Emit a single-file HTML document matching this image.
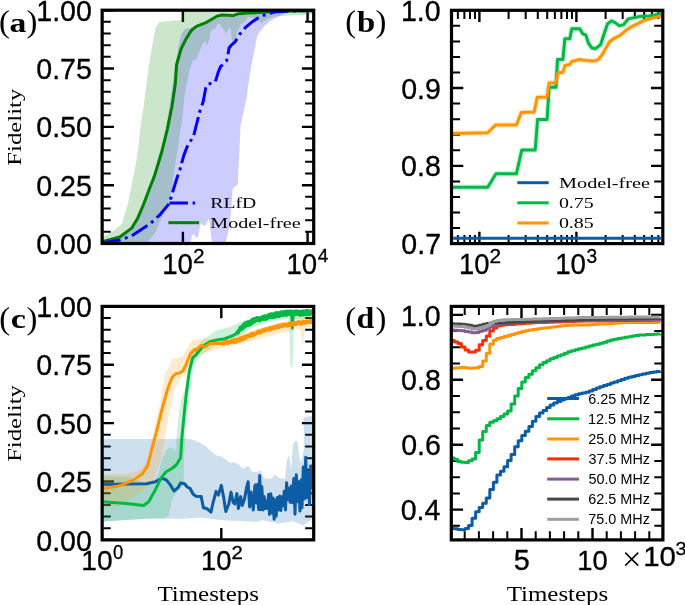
<!DOCTYPE html>
<html><head><meta charset="utf-8"><style>html,body{margin:0;padding:0;background:#fff;overflow:hidden}svg{display:block;will-change:transform}</style></head>
<body><svg width="685" height="605" viewBox="0 0 685 605">
<defs><clipPath id="clipA"><rect x="102.15" y="10.2" width="211.55" height="233.30"/></clipPath><clipPath id="clipB"><rect x="451.5" y="10.3" width="211.30" height="233.30"/></clipPath><clipPath id="clipC"><rect x="102.15" y="306.4" width="211.55" height="233.50"/></clipPath><clipPath id="clipD"><rect x="451.3" y="306.4" width="211.60" height="233.50"/></clipPath></defs>
<path d="M182.90 243.50V231.70M182.90 10.20V22.00M307.60 243.50V231.70M307.60 10.20V22.00M102.15 243.50H113.95M313.70 243.50H301.90M102.15 185.18H113.95M313.70 185.18H301.90M102.15 126.85H113.95M313.70 126.85H301.90M102.15 68.52H113.95M313.70 68.52H301.90M102.15 10.20H113.95M313.70 10.20H301.90" stroke="#000" stroke-width="2.4" fill="none"/>
<path d="M102.15 231.84H110.75M313.70 231.84H305.10M102.15 220.17H110.75M313.70 220.17H305.10M102.15 208.50H110.75M313.70 208.50H305.10M102.15 196.84H110.75M313.70 196.84H305.10M102.15 173.51H110.75M313.70 173.51H305.10M102.15 161.84H110.75M313.70 161.84H305.10M102.15 150.18H110.75M313.70 150.18H305.10M102.15 138.51H110.75M313.70 138.51H305.10M102.15 115.18H110.75M313.70 115.18H305.10M102.15 103.52H110.75M313.70 103.52H305.10M102.15 91.85H110.75M313.70 91.85H305.10M102.15 80.19H110.75M313.70 80.19H305.10M102.15 56.86H110.75M313.70 56.86H305.10M102.15 45.19H110.75M313.70 45.19H305.10M102.15 33.53H110.75M313.70 33.53H305.10M102.15 21.86H110.75M313.70 21.86H305.10" stroke="#000" stroke-width="2.0" fill="none"/>
<g clip-path="url(#clipA)">
<polygon points="102.2,243.5 102.2,242.5 110.0,241.5 120.0,238.5 131.0,230.0 138.0,220.0 144.0,205.0 150.0,185.0 156.0,165.0 162.0,145.0 166.0,128.0 169.4,107.0 172.3,87.3 174.9,67.5 178.3,47.6 181.3,33.8 185.0,29.0 192.0,27.5 198.0,25.0 206.0,23.0 212.0,20.0 222.0,17.0 232.0,17.0 242.0,15.0 256.0,13.0 270.0,11.5 284.0,11.5 285.0,13.5 283.8,14.0 277.8,16.9 273.4,19.2 268.9,22.1 264.4,25.9 260.0,31.8 257.0,36.3 255.5,45.2 253.3,55.6 251.0,67.5 248.8,80.9 246.6,98.0 243.5,112.0 240.6,125.0 239.7,144.8 238.7,164.7 237.7,184.5 232.7,188.5 231.7,204.3 229.7,224.1 228.6,230.0 225.5,243.5 212.8,243.5 211.5,238.8 210.2,228.3 208.9,218.6 207.1,222.1 205.4,225.6 203.2,225.2 201.0,223.0 199.7,228.3 198.4,236.2 196.2,237.9 194.4,234.0 192.3,235.3 189.6,243.5" fill="#0000ff" fill-opacity="0.2" stroke="none"/>
<polygon points="102.2,243.5 102.2,237.0 104.0,236.0 111.9,232.0 121.8,224.1 127.8,204.3 131.7,184.5 135.7,164.6 138.7,144.8 140.6,125.0 143.6,107.0 146.0,87.3 148.6,67.5 151.9,47.6 155.5,27.8 159.5,21.9 170.0,21.0 180.5,20.0 182.0,10.2 313.7,10.2 313.7,14.0 305.0,15.0 290.0,15.5 280.0,16.0 273.0,17.0 265.9,19.9 261.5,22.9 255.0,18.0 248.1,16.9 245.1,21.4 240.6,24.4 236.9,33.3 234.7,43.7 232.4,42.2 230.2,27.3 228.0,30.3 225.8,33.3 222.0,27.3 218.3,22.9 215.3,28.8 210.9,30.3 209.4,39.2 207.2,45.2 204.9,40.7 202.0,45.2 199.0,52.6 196.0,60.0 192.8,60.0 189.3,71.6 187.0,83.1 184.7,94.7 182.4,117.8 178.9,140.9 175.4,164.0 172.0,187.2 169.7,199.9 167.4,204.3 161.4,218.2 155.5,232.0 149.6,240.0 146.0,243.5" fill="#008000" fill-opacity="0.2" stroke="none"/>
<polyline points="102.2,242.0 104.0,241.3 119.8,237.0 131.7,228.1 137.7,218.2 143.6,204.3 150.0,187.2 154.6,175.6 161.6,152.5 167.3,129.4 172.0,106.2 175.4,83.1 176.5,65.0 181.1,48.9 186.2,38.6 191.3,30.5 196.4,26.4 201.5,24.3 206.6,22.3 211.8,19.2 216.9,16.2 222.0,15.0 227.1,15.2 233.2,15.6 237.3,14.1 247.5,13.1 258.0,12.6 267.9,12.1 280.0,11.3 313.7,10.8" fill="none" stroke="#008000" stroke-width="3.0" stroke-linejoin="round" stroke-linecap="butt"/>
<polyline points="102.2,243.0 104.0,242.6 119.8,240.0 131.7,236.0 149.6,224.1 159.5,215.2 169.4,203.3 172.0,194.1 176.9,178.3 179.8,170.2 181.6,163.2 183.9,155.1 186.8,147.6 190.2,141.8 193.7,135.5 197.8,119.3 199.5,112.3 203.2,101.6 205.7,88.3 207.9,83.9 213.9,83.1 216.1,79.4 218.3,72.0 220.5,66.8 222.8,64.5 226.5,60.8 228.0,54.1 229.1,48.0 231.0,45.5 235.3,41.7 239.4,34.6 245.5,27.4 251.6,22.3 257.7,18.2 263.9,15.2 274.1,12.1 285.0,11.3 300.0,10.8 313.7,10.6" fill="none" stroke="#0000ff" stroke-width="3.0" stroke-linejoin="round" stroke-linecap="butt" stroke-dasharray="18.6 4.6 2.9 4.6"/>
</g>
<polyline points="169.4,202.9 195.1,202.9" fill="none" stroke="#0000ff" stroke-width="3.0" stroke-linejoin="round" stroke-linecap="butt" stroke-dasharray="18.6 4.6 2.9 4.6"/>
<polyline points="168.4,222.7 199.1,222.7" fill="none" stroke="#008000" stroke-width="3.0" stroke-linejoin="round" stroke-linecap="butt"/>
<rect x="102.15" y="10.2" width="211.55" height="233.30" fill="none" stroke="#000" stroke-width="3.2" stroke-linejoin="miter"/>
<path d="M479.40 243.60V231.80M479.40 10.30V22.10M576.40 243.60V231.80M576.40 10.30V22.10M451.50 243.60H463.30M662.80 243.60H651.00M451.50 165.83H463.30M662.80 165.83H651.00M451.50 88.07H463.30M662.80 88.07H651.00M451.50 10.30H463.30M662.80 10.30H651.00" stroke="#000" stroke-width="2.4" fill="none"/>
<path d="M457.88 243.60V235.00M457.88 10.30V18.90M464.37 243.60V235.00M464.37 10.30V18.90M470.00 243.60V235.00M470.00 10.30V18.90M474.96 243.60V235.00M474.96 10.30V18.90M508.60 243.60V235.00M508.60 10.30V18.90M525.68 243.60V235.00M525.68 10.30V18.90M537.80 243.60V235.00M537.80 10.30V18.90M547.20 243.60V235.00M547.20 10.30V18.90M554.88 243.60V235.00M554.88 10.30V18.90M561.37 243.60V235.00M561.37 10.30V18.90M567.00 243.60V235.00M567.00 10.30V18.90M571.96 243.60V235.00M571.96 10.30V18.90M605.60 243.60V235.00M605.60 10.30V18.90M622.68 243.60V235.00M622.68 10.30V18.90M634.80 243.60V235.00M634.80 10.30V18.90M644.20 243.60V235.00M644.20 10.30V18.90M651.88 243.60V235.00M651.88 10.30V18.90M658.37 243.60V235.00M658.37 10.30V18.90M451.50 228.05H460.10M662.80 228.05H654.20M451.50 212.49H460.10M662.80 212.49H654.20M451.50 196.94H460.10M662.80 196.94H654.20M451.50 181.39H460.10M662.80 181.39H654.20M451.50 150.28H460.10M662.80 150.28H654.20M451.50 134.73H460.10M662.80 134.73H654.20M451.50 119.17H460.10M662.80 119.17H654.20M451.50 103.62H460.10M662.80 103.62H654.20M451.50 72.51H460.10M662.80 72.51H654.20M451.50 56.96H460.10M662.80 56.96H654.20M451.50 41.41H460.10M662.80 41.41H654.20M451.50 25.85H460.10M662.80 25.85H654.20" stroke="#000" stroke-width="2.0" fill="none"/>
<g clip-path="url(#clipB)">
<polyline points="451.5,133.4 487.7,132.8 495.6,124.9 516.4,124.9 521.4,112.4 534.2,112.0 537.2,97.2 547.1,97.2 549.1,82.9 556.0,82.9 557.9,72.4 562.9,72.4 564.9,65.5 569.8,64.5 571.8,61.5 578.8,59.6 586.7,60.6 592.6,61.1 597.6,60.0 601.6,55.6 605.5,48.7 609.5,41.7 613.5,38.7 619.4,35.8 625.4,30.8 631.3,26.8 637.3,23.9 643.2,20.9 651.1,18.3 660.1,16.3 662.8,15.8" fill="none" stroke="#FF9500" stroke-width="5.6" stroke-linejoin="round" stroke-linecap="butt" stroke-opacity="0.2"/>
<polyline points="451.5,187.3 487.7,187.3 496.0,173.8 516.4,173.8 521.8,150.0 535.2,150.0 537.6,119.5 547.1,119.5 549.1,87.3 556.0,87.3 557.5,59.6 562.9,59.6 564.9,38.7 569.8,38.7 571.8,28.8 579.7,28.8 582.7,33.8 585.7,34.8 588.7,43.7 591.6,47.7 595.6,48.7 600.6,44.7 603.5,35.8 607.5,23.9 611.5,20.9 615.4,22.9 619.4,25.8 623.4,24.9 628.3,18.9 633.3,17.9 641.2,16.3 649.1,15.9 660.1,14.0 662.8,13.6" fill="none" stroke="#00B945" stroke-width="5.6" stroke-linejoin="round" stroke-linecap="butt" stroke-opacity="0.2"/>
<polyline points="451.5,187.3 487.7,187.3 496.0,173.8 516.4,173.8 521.8,150.0 535.2,150.0 537.6,119.5 547.1,119.5 549.1,87.3 556.0,87.3 557.5,59.6 562.9,59.6 564.9,38.7 569.8,38.7 571.8,28.8 579.7,28.8 582.7,33.8 585.7,34.8 588.7,43.7 591.6,47.7 595.6,48.7 600.6,44.7 603.5,35.8 607.5,23.9 611.5,20.9 615.4,22.9 619.4,25.8 623.4,24.9 628.3,18.9 633.3,17.9 641.2,16.3 649.1,15.9 660.1,14.0 662.8,13.6" fill="none" stroke="#00B945" stroke-width="3.0" stroke-linejoin="round" stroke-linecap="butt"/>
<polyline points="451.5,133.4 487.7,132.8 495.6,124.9 516.4,124.9 521.4,112.4 534.2,112.0 537.2,97.2 547.1,97.2 549.1,82.9 556.0,82.9 557.9,72.4 562.9,72.4 564.9,65.5 569.8,64.5 571.8,61.5 578.8,59.6 586.7,60.6 592.6,61.1 597.6,60.0 601.6,55.6 605.5,48.7 609.5,41.7 613.5,38.7 619.4,35.8 625.4,30.8 631.3,26.8 637.3,23.9 643.2,20.9 651.1,18.3 660.1,16.3 662.8,15.8" fill="none" stroke="#FF9500" stroke-width="3.0" stroke-linejoin="round" stroke-linecap="butt"/>
</g>
<polyline points="517.3,182.7 548.7,182.7" fill="none" stroke="#0C5DA5" stroke-width="3.0" stroke-linejoin="round" stroke-linecap="butt"/>
<polyline points="517.3,202.8 548.7,202.8" fill="none" stroke="#00B945" stroke-width="3.0" stroke-linejoin="round" stroke-linecap="butt"/>
<polyline points="517.3,223.0 548.7,223.0" fill="none" stroke="#FF9500" stroke-width="3.0" stroke-linejoin="round" stroke-linecap="butt"/>
<rect x="451.5" y="10.3" width="211.30" height="233.30" fill="none" stroke="#000" stroke-width="3.2" stroke-linejoin="miter"/>
<polyline points="453.1,238.2 661.2,238.2" fill="none" stroke="#0C5DA5" stroke-width="3.0" stroke-linejoin="round" stroke-linecap="butt"/>
<path d="M221.30 539.90V528.10M221.30 306.40V318.20M102.15 539.90H113.95M313.70 539.90H301.90M102.15 481.52H113.95M313.70 481.52H301.90M102.15 423.15H113.95M313.70 423.15H301.90M102.15 364.77H113.95M313.70 364.77H301.90M102.15 306.40H113.95M313.70 306.40H301.90" stroke="#000" stroke-width="2.4" fill="none"/>
<path d="M102.15 528.23H110.75M313.70 528.23H305.10M102.15 516.55H110.75M313.70 516.55H305.10M102.15 504.88H110.75M313.70 504.88H305.10M102.15 493.20H110.75M313.70 493.20H305.10M102.15 469.85H110.75M313.70 469.85H305.10M102.15 458.17H110.75M313.70 458.17H305.10M102.15 446.50H110.75M313.70 446.50H305.10M102.15 434.82H110.75M313.70 434.82H305.10M102.15 411.47H110.75M313.70 411.47H305.10M102.15 399.80H110.75M313.70 399.80H305.10M102.15 388.12H110.75M313.70 388.12H305.10M102.15 376.45H110.75M313.70 376.45H305.10M102.15 353.10H110.75M313.70 353.10H305.10M102.15 341.42H110.75M313.70 341.42H305.10M102.15 329.75H110.75M313.70 329.75H305.10M102.15 318.07H110.75M313.70 318.07H305.10" stroke="#000" stroke-width="2.0" fill="none"/>
<g clip-path="url(#clipC)">
<polygon points="102.2,438.9 170.0,438.9 184.6,438.4 191.9,439.6 199.2,442.5 205.0,445.4 210.9,451.3 215.3,454.9 221.1,456.4 225.5,459.3 229.9,463.0 234.2,462.2 238.6,464.4 243.0,468.8 247.4,466.6 248.8,465.9 251.8,471.7 257.6,471.7 260.5,470.0 264.0,477.9 271.0,478.8 275.0,474.6 279.0,478.0 285.0,478.5 287.0,460.0 289.0,454.8 291.0,470.0 293.0,445.0 295.0,441.0 297.5,441.6 299.5,460.0 301.5,462.0 303.8,450.0 303.8,417.3 308.0,416.5 313.7,415.8 313.7,519.3 311.7,519.3 303.4,525.5 293.0,521.3 278.6,523.4 262.0,520.3 255.6,521.9 240.7,521.1 225.8,520.4 200.0,517.4 182.7,518.7 163.4,518.7 146.3,518.7 126.4,520.0 104.0,521.4 102.2,521.4" fill="#0C5DA5" fill-opacity="0.2" stroke="none"/>
<polygon points="102.2,475.8 130.0,477.0 146.0,484.0 152.9,484.4 158.0,474.0 162.0,460.0 166.1,450.5 169.4,447.2 172.8,447.9 176.0,450.5 176.7,434.6 178.7,414.8 180.7,401.6 182.7,395.0 185.1,388.0 188.3,366.5 192.6,352.5 198.0,345.0 205.0,338.0 217.0,330.3 231.0,326.8 241.5,321.5 253.8,317.1 271.0,313.6 284.0,311.0 300.0,309.2 313.7,308.6 313.7,318.0 300.0,319.0 294.0,319.0 292.5,367.0 290.5,367.0 289.0,319.0 276.0,320.0 266.0,323.0 256.0,326.0 248.0,330.0 242.0,334.0 236.0,340.0 228.0,343.0 215.0,346.0 204.4,353.6 198.0,357.9 193.7,366.5 190.5,388.0 186.2,422.3 184.0,458.8 183.9,485.0 179.3,489.6 172.7,497.6 168.7,516.0 164.8,518.0 146.3,518.7 126.4,520.0 102.2,521.4" fill="#00B945" fill-opacity="0.2" stroke="none"/>
<polygon points="102.2,474.4 126.4,473.8 137.0,471.1 143.6,465.9 148.6,456.7 155.0,424.5 160.4,400.9 164.7,375.1 167.9,368.7 172.2,359.0 178.7,357.9 182.9,355.8 189.4,344.0 193.7,339.7 202.3,338.6 210.0,339.0 236.0,335.0 255.0,329.5 275.0,324.0 295.0,318.5 313.7,315.5 313.7,326.5 305.0,327.5 302.5,345.0 300.0,329.0 295.0,330.0 275.0,334.5 255.0,339.5 236.0,345.0 215.0,350.0 204.4,352.5 198.0,355.8 191.5,362.2 186.2,373.0 179.7,379.4 174.4,390.1 167.9,420.2 161.5,458.8 156.8,469.8 152.9,481.7 148.9,487.0 143.6,489.6 133.0,497.6 119.8,505.5 102.2,508.1" fill="#FF9500" fill-opacity="0.2" stroke="none"/>
<polyline points="102.2,484.6 126.4,484.1 146.3,483.7 155.5,481.7 162.1,478.4 166.1,479.7 170.0,484.4 174.0,491.0 178.0,487.7 180.6,483.0 184.6,483.7 187.2,487.0 190.0,488.3 193.0,494.0 196.0,496.3 201.2,496.6 203.4,507.7 207.2,508.8 210.9,512.2 213.1,502.5 216.1,491.4 218.3,495.1 221.3,485.4 223.5,496.6 225.8,511.5 228.8,504.0 231.0,492.1 233.2,502.5 234.7,504.0 236.9,493.6 238.4,508.5 240.7,496.6 242.2,505.5 244.4,499.6 246.6,487.6 248.1,481.7 249.6,507.0 251.1,492.1 253.3,510.0 254.8,486.2 255.6,484.9 256.6,503.1 257.5,484.5 258.6,509.6 259.7,475.4 260.9,509.8 261.8,486.5 263.1,509.9 264.1,496.4 265.5,508.6 266.6,501.0 267.5,508.3 268.6,494.2 269.5,514.5 270.8,493.7 272.0,512.9 273.1,497.9 274.1,519.3 275.1,499.9 276.2,516.2 277.4,497.6 278.4,510.1 279.7,496.0 280.8,510.5 282.2,496.8 283.2,505.7 284.2,491.2 285.5,510.0 286.6,482.7 287.8,499.4 289.0,488.2 290.1,502.3 291.3,486.0 292.4,502.7 293.8,478.5 295.0,514.2 296.3,474.8 297.7,501.7 298.7,481.8 299.9,511.1 301.1,480.1 302.0,507.7 303.3,467.1 304.3,499.1 305.7,457.3 306.8,497.7 308.1,472.5 309.5,504.6 310.6,465.9 311.9,487.8 312.9,465.5 313.9,492.0" fill="none" stroke="#0C5DA5" stroke-width="3.0" stroke-linejoin="round" stroke-linecap="butt"/>
<polyline points="102.2,501.8 126.4,503.5 143.6,505.5 148.9,501.5 155.5,489.6 160.8,478.4 166.1,471.8 172.0,468.5 176.6,464.5 180.6,457.9 181.9,437.4 184.0,415.9 186.2,394.4 189.4,370.8 192.6,357.9 196.0,354.8 203.0,346.0 210.0,341.7 217.0,339.9 224.0,339.0 231.0,336.4 236.3,333.8" fill="none" stroke="#00B945" stroke-width="3.0" stroke-linejoin="round" stroke-linecap="butt"/>
<polyline points="236.3,333.8 237.1,332.9 237.9,332.3 238.7,331.0 239.5,330.1 240.3,329.3 241.1,328.2 241.9,327.8" fill="none" stroke="#00B945" stroke-width="4.2" stroke-linejoin="round" stroke-linecap="butt"/>
<polyline points="240.3,329.3 241.1,328.2 241.9,327.8 242.7,327.2 243.5,326.7 244.3,325.1 245.1,324.7 245.9,323.9 246.7,324.7 247.5,324.2 248.3,322.7 249.1,324.0 249.9,323.7 250.7,322.7 251.5,322.2 252.3,321.0 253.1,320.3 253.9,321.0 254.7,319.7 255.5,319.6 256.3,319.5 257.1,318.8 257.9,319.4 258.7,319.1 259.5,319.6 260.3,318.7 261.1,318.7 261.9,318.1 262.7,318.2 263.5,317.6 264.3,317.1 265.1,318.3 265.9,318.1 266.7,317.5 267.5,317.1 268.3,316.1 269.1,315.7 269.9,315.6 270.7,315.0 271.5,316.2 272.3,315.3 273.1,316.1 273.9,315.0 274.7,316.0 275.5,315.6 276.3,313.7 277.1,314.0 277.9,315.2 278.7,314.2 279.5,315.1 280.3,313.8 281.1,313.0 281.9,314.0 282.7,314.2 283.5,313.0 284.3,312.6 285.1,312.9 285.9,314.1 286.7,313.6 287.5,312.2 288.3,312.5 289.1,312.2 289.9,312.2 290.7,313.7 291.5,312.4 292.3,313.2 293.1,313.0 293.9,312.5 294.7,313.6 295.5,312.4 296.3,313.4 297.1,312.4 297.9,313.0 298.7,312.6 299.5,312.7 300.3,314.1 301.1,313.7 301.9,312.6 302.7,313.7 303.5,312.3 304.3,312.6 305.1,313.4 305.9,312.9 306.7,311.7 307.5,313.5 308.3,312.0 309.1,312.1 309.9,313.2 310.7,312.3 311.5,312.3 312.3,311.9 313.1,312.0 313.9,313.0" fill="none" stroke="#00B945" stroke-width="5.4" stroke-linejoin="round" stroke-linecap="butt"/>
<polyline points="291.3,314.0 292.4,328.4 293.6,314.0" fill="none" stroke="#00B945" stroke-width="2.4" stroke-linejoin="round" stroke-linecap="butt"/>
<polyline points="102.2,489.0 119.8,485.7 133.0,480.4 142.3,473.8 147.6,465.9 151.5,450.0 156.1,433.1 162.5,407.3 167.9,388.0 172.2,377.2 175.4,374.0 179.7,372.9 182.9,370.8 186.2,364.4 190.5,353.6 194.8,349.3 196.0,350.4 201.3,345.2 204.8,346.9 210.0,343.4 222.3,343.4 231.0,341.7 236.0,341.0" fill="none" stroke="#FF9500" stroke-width="3.0" stroke-linejoin="round" stroke-linecap="butt"/>
<polyline points="222.3,343.4 223.1,343.5 223.9,343.4 224.7,342.4 225.5,342.0 226.3,342.4 227.1,342.1 227.9,342.8 228.7,342.5 229.5,342.2 230.3,341.9 231.1,341.9 231.9,341.0 232.7,341.4 233.5,340.8 234.3,341.9 235.1,340.4 235.9,341.5 236.7,340.0 237.5,340.7 238.3,339.8 239.1,339.6 239.9,340.0 240.7,338.4 241.5,338.2 242.3,339.2 243.1,338.3 243.9,337.3 244.7,338.4 245.5,338.0 246.3,336.4 247.1,336.6 247.9,335.8 248.7,335.8 249.5,336.0 250.3,335.0 251.1,335.6 251.9,334.2 252.7,334.1 253.5,334.9 254.3,333.9 255.1,333.6 255.9,333.6 256.7,333.0 257.5,332.5 258.3,331.6 259.1,332.4 259.9,332.4 260.7,332.1 261.5,331.3 262.3,330.5 263.1,330.3 263.9,330.6 264.7,330.4 265.5,329.3 266.3,329.3 267.1,329.3 267.9,329.3 268.7,329.6 269.5,328.9 270.3,328.0 271.1,329.0 271.9,328.2 272.7,328.1 273.5,327.4 274.3,327.6 275.1,327.3 275.9,327.7 276.7,326.4 277.5,326.9 278.3,326.1 279.1,326.7 279.9,325.5 280.7,325.7 281.5,325.7 282.3,326.0 283.1,324.9 283.9,325.4 284.7,324.8 285.5,324.8 286.3,324.9 287.1,325.5 287.9,324.6 288.7,325.2 289.5,323.8 290.3,324.8 291.1,323.8 291.9,323.5 292.7,324.2 293.5,324.4 294.3,322.9 295.1,323.2 295.9,323.9 296.7,323.1 297.5,322.8 298.3,322.3 299.1,322.3 299.9,323.1 300.7,323.6 301.5,323.5 302.3,322.6 303.1,321.7 303.9,322.1 304.7,322.7 305.5,322.6 306.3,322.2 307.1,321.5 307.9,321.8 308.7,321.6 309.5,321.7 310.3,321.0 311.1,321.9 311.9,321.7 312.7,320.4 313.5,320.5 314.3,321.4" fill="none" stroke="#FF9500" stroke-width="4.2" stroke-linejoin="round" stroke-linecap="butt"/>
</g>
<rect x="102.15" y="306.4" width="211.55" height="233.50" fill="none" stroke="#000" stroke-width="3.2" stroke-linejoin="miter"/>
<path d="M521.50 539.90V528.10M521.50 306.40V318.20M592.50 539.90V528.10M592.50 306.40V318.20M451.30 509.60H463.10M662.90 509.60H651.10M451.30 444.70H463.10M662.90 444.70H651.10M451.30 379.80H463.10M662.90 379.80H651.10M451.30 314.90H463.10M662.90 314.90H651.10" stroke="#000" stroke-width="2.4" fill="none"/>
<path d="M464.70 539.90V531.30M464.70 306.40V315.00M478.90 539.90V531.30M478.90 306.40V315.00M493.10 539.90V531.30M493.10 306.40V315.00M507.30 539.90V531.30M507.30 306.40V315.00M535.70 539.90V531.30M535.70 306.40V315.00M549.90 539.90V531.30M549.90 306.40V315.00M564.10 539.90V531.30M564.10 306.40V315.00M578.30 539.90V531.30M578.30 306.40V315.00M606.70 539.90V531.30M606.70 306.40V315.00M620.90 539.90V531.30M620.90 306.40V315.00M635.10 539.90V531.30M635.10 306.40V315.00M649.30 539.90V531.30M649.30 306.40V315.00M451.30 525.83H459.90M662.90 525.83H654.30M451.30 493.38H459.90M662.90 493.38H654.30M451.30 477.15H459.90M662.90 477.15H654.30M451.30 460.92H459.90M662.90 460.92H654.30M451.30 428.47H459.90M662.90 428.47H654.30M451.30 412.25H459.90M662.90 412.25H654.30M451.30 396.02H459.90M662.90 396.02H654.30M451.30 363.57H459.90M662.90 363.57H654.30M451.30 347.35H459.90M662.90 347.35H654.30M451.30 331.12H459.90M662.90 331.12H654.30" stroke="#000" stroke-width="2.0" fill="none"/>
<g clip-path="url(#clipD)">
<polyline points="450.8,528.4 454.3,528.4 454.3,528.7 457.9,528.7 457.9,529.6 461.4,529.6 461.4,529.7 465.0,529.7 465.0,528.6 468.5,528.6 468.5,525.6 472.1,525.6 472.1,518.2 475.6,518.2 475.6,511.7 479.2,511.7 479.2,507.5 482.7,507.5 482.7,503.3 486.3,503.3 486.3,498.1 489.8,498.1 489.8,489.4 493.4,489.4 493.4,482.2 496.9,482.2 496.9,475.1 500.5,475.1 500.5,471.3 504.0,471.3 504.0,466.7 507.6,466.7 507.6,460.5 511.1,460.5 511.1,454.6 514.7,454.6 514.7,446.8 518.2,446.8 518.2,440.7 521.8,440.7 521.8,435.4 525.3,435.4 525.3,431.3 528.9,431.3 528.9,426.5 532.4,426.5 532.4,421.2 535.9,421.2 535.9,416.6 539.5,416.6 539.5,413.1 543.0,413.1 543.0,410.6 546.6,410.6 546.6,407.6 550.1,407.6 550.1,405.1 553.7,405.1 553.7,403.1 557.2,403.1 557.2,401.4 560.8,401.4 560.8,400.1 564.3,400.1 564.3,398.8 567.9,398.8 567.9,397.4 571.4,397.4 571.4,396.0 575.0,396.0 575.0,394.8 578.5,394.8 578.5,393.8 582.1,393.8 582.1,393.1 585.6,393.1 585.6,392.2 589.2,392.2 589.2,390.9 592.7,390.9 592.7,389.5 596.3,389.5 596.3,388.1 599.8,388.1 599.8,386.8 603.4,386.8 603.4,385.6 606.9,385.6 606.9,384.4 610.5,384.4 610.5,383.1 614.0,383.1 614.0,381.9 617.6,381.9 617.6,380.7 621.1,380.7 621.1,379.4 624.7,379.4 624.7,378.2 628.2,378.2 628.2,377.3 631.8,377.3 631.8,376.4 635.3,376.4 635.3,375.5 638.9,375.5 638.9,374.7 642.4,374.7 642.4,374.0 646.0,374.0 646.0,373.2 649.5,373.2 649.5,372.5 653.1,372.5 653.1,371.9 656.6,371.9 656.6,371.5 660.2,371.5 660.2,371.0" fill="none" stroke="#0C5DA5" stroke-width="3.0" stroke-linejoin="round" stroke-linecap="butt"/>
<polyline points="450.8,458.0 454.3,458.0 454.3,459.5 457.9,459.5 457.9,461.5 461.4,461.5 461.4,462.3 465.0,462.3 465.0,462.4 468.5,462.4 468.5,460.7 472.1,460.7 472.1,459.0 475.6,459.0 475.6,452.5 479.2,452.5 479.2,440.0 482.7,440.0 482.7,431.5 486.3,431.5 486.3,425.4 489.8,425.4 489.8,422.3 493.4,422.3 493.4,420.8 496.9,420.8 496.9,418.8 500.5,418.8 500.5,416.6 504.0,416.6 504.0,414.0 507.6,414.0 507.6,411.0 511.1,411.0 511.1,404.0 514.7,404.0 514.7,396.0 518.2,396.0 518.2,388.5 521.8,388.5 521.8,382.0 525.3,382.0 525.3,377.6 528.9,377.6 528.9,374.2 532.4,374.2 532.4,370.7 535.9,370.7 535.9,367.7 539.5,367.7 539.5,364.8 543.0,364.8 543.0,362.6 546.6,362.6 546.6,360.7 550.1,360.7 550.1,358.8 553.7,358.8 553.7,357.5 557.2,357.5 557.2,356.1 560.8,356.1 560.8,354.7 564.3,354.7 564.3,353.2 567.9,353.2 567.9,351.8 571.4,351.8 571.4,350.8 575.0,350.8 575.0,349.8 578.5,349.8 578.5,348.8 582.1,348.8 582.1,348.0 585.6,348.0 585.6,347.1 589.2,347.1 589.2,346.0 592.7,346.0 592.7,345.1 596.3,345.1 596.3,344.2 599.8,344.2 599.8,343.3 603.4,343.3 603.4,342.2 606.9,342.2 606.9,341.1 610.5,341.1 610.5,340.1 614.0,340.1 614.0,339.3 617.6,339.3 617.6,338.6 621.1,338.6 621.1,337.9 624.7,337.9 624.7,337.2 628.2,337.2 628.2,336.7 631.8,336.7 631.8,336.1 635.3,336.1 635.3,335.6 638.9,335.6 638.9,335.1 642.4,335.1 642.4,334.9 646.0,334.9 646.0,334.6 649.5,334.6 649.5,334.4 653.1,334.4 653.1,334.2 656.6,334.2 656.6,334.1 660.2,334.1 660.2,334.0" fill="none" stroke="#00B945" stroke-width="3.0" stroke-linejoin="round" stroke-linecap="butt"/>
<polyline points="450.8,368.4 454.3,368.4 454.3,368.1 457.9,368.1 457.9,367.8 461.4,367.8 461.4,367.4 465.0,367.4 465.0,367.8 468.5,367.8 468.5,368.2 472.1,368.2 472.1,368.1 475.6,368.1 475.6,367.7 479.2,367.7 479.2,366.4 482.7,366.4 482.7,360.9 486.3,360.9 486.3,353.2 489.8,353.2 489.8,344.1 493.4,344.1 493.4,340.3 496.9,340.3 496.9,338.4 500.5,338.4 500.5,337.5 504.0,337.5 504.0,336.5 507.6,336.5 507.6,335.5 511.1,335.5 511.1,334.4 514.7,334.4 514.7,333.4 518.2,333.4 518.2,332.5 521.8,332.5 521.8,331.6 525.3,331.6 525.3,330.7 528.9,330.7 528.9,330.1 532.4,330.1 532.4,329.5 535.9,329.5 535.9,328.9 539.5,328.9 539.5,328.4 543.0,328.4 543.0,328.1 546.6,328.1 546.6,327.7 550.1,327.7 550.1,327.2 553.7,327.2 553.7,326.7 557.2,326.7 557.2,326.2 560.8,326.2 560.8,325.8 564.3,325.8 564.3,325.5 567.9,325.5 567.9,325.3 571.4,325.3 571.4,325.1 575.0,325.1 575.0,324.9 578.5,324.9 578.5,324.9 582.1,324.9 582.1,325.0 585.6,325.0 585.6,325.0 589.2,325.0 589.2,324.7 592.7,324.7 592.7,324.5 596.3,324.5 596.3,324.3 599.8,324.3 599.8,324.1 603.4,324.1 603.4,323.9 606.9,323.9 606.9,323.7 610.5,323.7 610.5,323.5 614.0,323.5 614.0,323.2 617.6,323.2 617.6,323.0 621.1,323.0 621.1,322.8 624.7,322.8 624.7,322.6 628.2,322.6 628.2,322.6 631.8,322.6 631.8,322.5 635.3,322.5 635.3,322.5 638.9,322.5 638.9,322.5 642.4,322.5 642.4,322.5 646.0,322.5 646.0,322.4 649.5,322.4 649.5,322.4 653.1,322.4 653.1,322.4 656.6,322.4 656.6,322.3 660.2,322.3 660.2,322.3" fill="none" stroke="#FF9500" stroke-width="3.0" stroke-linejoin="round" stroke-linecap="butt"/>
<polyline points="450.8,340.6 454.3,340.6 454.3,342.0 457.9,342.0 457.9,343.6 461.4,343.6 461.4,347.1 465.0,347.1 465.0,350.0 468.5,350.0 468.5,351.9 472.1,351.9 472.1,351.9 475.6,351.9 475.6,350.3 479.2,350.3 479.2,344.8 482.7,344.8 482.7,340.5 486.3,340.5 486.3,336.0 489.8,336.0 489.8,331.0 493.4,331.0 493.4,328.0 496.9,328.0 496.9,326.0 500.5,326.0 500.5,325.2 504.0,325.2 504.0,324.7 507.6,324.7 507.6,324.5 511.1,324.5 511.1,324.4 514.7,324.4 514.7,324.1 518.2,324.1 518.2,323.8 521.8,323.8 521.8,323.5 525.3,323.5 525.3,323.2 528.9,323.2 528.9,322.9 532.4,322.9 532.4,322.7 535.9,322.7 535.9,322.6 539.5,322.6 539.5,322.5 543.0,322.5 543.0,322.4 546.6,322.4 546.6,322.3 550.1,322.3 550.1,322.2 553.7,322.2 553.7,322.0 557.2,322.0 557.2,321.9 560.8,321.9 560.8,321.8 564.3,321.8 564.3,321.7 567.9,321.7 567.9,321.5 571.4,321.5 571.4,321.4 575.0,321.4 575.0,321.3 578.5,321.3 578.5,321.2 582.1,321.2 582.1,321.1 585.6,321.1 585.6,321.0 589.2,321.0 589.2,321.0 592.7,321.0 592.7,320.9 596.3,320.9 596.3,320.9 599.8,320.9 599.8,320.8 603.4,320.8 603.4,320.7 606.9,320.7 606.9,320.7 610.5,320.7 610.5,320.6 614.0,320.6 614.0,320.6 617.6,320.6 617.6,320.5 621.1,320.5 621.1,320.5 624.7,320.5 624.7,320.4 628.2,320.4 628.2,320.4 631.8,320.4 631.8,320.4 635.3,320.4 635.3,320.3 638.9,320.3 638.9,320.3 642.4,320.3 642.4,320.2 646.0,320.2 646.0,320.2 649.5,320.2 649.5,320.2 653.1,320.2 653.1,320.1 656.6,320.1 656.6,320.1 660.2,320.1 660.2,320.0" fill="none" stroke="#FF2C00" stroke-width="3.0" stroke-linejoin="round" stroke-linecap="butt"/>
<polyline points="450.8,330.1 454.3,330.1 454.3,330.3 457.9,330.3 457.9,330.5 461.4,330.5 461.4,330.7 465.0,330.7 465.0,331.4 468.5,331.4 468.5,332.1 472.1,332.1 472.1,332.7 475.6,332.7 475.6,332.4 479.2,332.4 479.2,331.3 482.7,331.3 482.7,330.2 486.3,330.2 486.3,328.7 489.8,328.7 489.8,326.6 493.4,326.6 493.4,325.6 496.9,325.6 496.9,324.6 500.5,324.6 500.5,323.8 504.0,323.8 504.0,323.6 507.6,323.6 507.6,323.3 511.1,323.3 511.1,323.1 514.7,323.1 514.7,322.9 518.2,322.9 518.2,322.7 521.8,322.7 521.8,322.5 525.3,322.5 525.3,322.3 528.9,322.3 528.9,322.1 532.4,322.1 532.4,321.9 535.9,321.9 535.9,321.7 539.5,321.7 539.5,321.6 543.0,321.6 543.0,321.5 546.6,321.5 546.6,321.4 550.1,321.4 550.1,321.3 553.7,321.3 553.7,321.2 557.2,321.2 557.2,321.1 560.8,321.1 560.8,321.0 564.3,321.0 564.3,320.9 567.9,320.9 567.9,320.8 571.4,320.8 571.4,320.7 575.0,320.7 575.0,320.6 578.5,320.6 578.5,320.5 582.1,320.5 582.1,320.5 585.6,320.5 585.6,320.4 589.2,320.4 589.2,320.4 592.7,320.4 592.7,320.3 596.3,320.3 596.3,320.3 599.8,320.3 599.8,320.3 603.4,320.3 603.4,320.2 606.9,320.2 606.9,320.2 610.5,320.2 610.5,320.1 614.0,320.1 614.0,320.1 617.6,320.1 617.6,320.0 621.1,320.0 621.1,320.0 624.7,320.0 624.7,320.0 628.2,320.0 628.2,319.9 631.8,319.9 631.8,319.9 635.3,319.9 635.3,319.8 638.9,319.8 638.9,319.8 642.4,319.8 642.4,319.7 646.0,319.7 646.0,319.7 649.5,319.7 649.5,319.7 653.1,319.7 653.1,319.6 656.6,319.6 656.6,319.6 660.2,319.6 660.2,319.5" fill="none" stroke="#845B97" stroke-width="3.0" stroke-linejoin="round" stroke-linecap="butt"/>
<polyline points="450.8,323.7 454.3,323.7 454.3,323.9 457.9,323.9 457.9,324.1 461.4,324.1 461.4,324.3 465.0,324.3 465.0,324.7 468.5,324.7 468.5,325.3 472.1,325.3 472.1,326.2 475.6,326.2 475.6,326.1 479.2,326.1 479.2,325.2 482.7,325.2 482.7,324.3 486.3,324.3 486.3,323.6 489.8,323.6 489.8,323.1 493.4,323.1 493.4,323.0 496.9,323.0 496.9,322.9 500.5,322.9 500.5,322.9 504.0,322.9 504.0,322.7 507.6,322.7 507.6,322.5 511.1,322.5 511.1,322.3 514.7,322.3 514.7,322.1 518.2,322.1 518.2,322.0 521.8,322.0 521.8,321.8 525.3,321.8 525.3,321.6 528.9,321.6 528.9,321.4 532.4,321.4 532.4,321.2 535.9,321.2 535.9,321.1 539.5,321.1 539.5,321.0 543.0,321.0 543.0,320.8 546.6,320.8 546.6,320.7 550.1,320.7 550.1,320.6 553.7,320.6 553.7,320.5 557.2,320.5 557.2,320.4 560.8,320.4 560.8,320.3 564.3,320.3 564.3,320.2 567.9,320.2 567.9,320.1 571.4,320.1 571.4,320.0 575.0,320.0 575.0,319.9 578.5,319.9 578.5,319.8 582.1,319.8 582.1,319.7 585.6,319.7 585.6,319.6 589.2,319.6 589.2,319.5 592.7,319.5 592.7,319.4 596.3,319.4 596.3,319.3 599.8,319.3 599.8,319.2 603.4,319.2 603.4,319.2 606.9,319.2 606.9,319.1 610.5,319.1 610.5,319.1 614.0,319.1 614.0,319.0 617.6,319.0 617.6,319.0 621.1,319.0 621.1,318.9 624.7,318.9 624.7,318.9 628.2,318.9 628.2,318.8 631.8,318.8 631.8,318.8 635.3,318.8 635.3,318.8 638.9,318.8 638.9,318.7 642.4,318.7 642.4,318.7 646.0,318.7 646.0,318.6 649.5,318.6 649.5,318.6 653.1,318.6 653.1,318.5 656.6,318.5 656.6,318.5 660.2,318.5 660.2,318.4" fill="none" stroke="#474747" stroke-width="3.0" stroke-linejoin="round" stroke-linecap="butt"/>
<polyline points="450.8,326.0 454.3,326.0 454.3,326.2 457.9,326.2 457.9,326.4 461.4,326.4 461.4,326.6 465.0,326.6 465.0,327.3 468.5,327.3 468.5,328.1 472.1,328.1 472.1,329.1 475.6,329.1 475.6,328.9 479.2,328.9 479.2,327.8 482.7,327.8 482.7,326.7 486.3,326.7 486.3,325.4 489.8,325.4 489.8,323.0 493.4,323.0 493.4,321.3 496.9,321.3 496.9,320.5 500.5,320.5 500.5,319.9 504.0,319.9 504.0,319.8 507.6,319.8 507.6,319.7 511.1,319.7 511.1,319.6 514.7,319.6 514.7,319.5 518.2,319.5 518.2,319.4 521.8,319.4 521.8,319.4 525.3,319.4 525.3,319.3 528.9,319.3 528.9,319.2 532.4,319.2 532.4,319.1 535.9,319.1 535.9,319.0 539.5,319.0 539.5,318.9 543.0,318.9 543.0,318.8 546.6,318.8 546.6,318.7 550.1,318.7 550.1,318.6 553.7,318.6 553.7,318.5 557.2,318.5 557.2,318.4 560.8,318.4 560.8,318.2 564.3,318.2 564.3,318.1 567.9,318.1 567.9,318.0 571.4,318.0 571.4,317.9 575.0,317.9 575.0,317.8 578.5,317.8 578.5,317.6 582.1,317.6 582.1,317.6 585.6,317.6 585.6,317.5 589.2,317.5 589.2,317.5 592.7,317.5 592.7,317.5 596.3,317.5 596.3,317.4 599.8,317.4 599.8,317.4 603.4,317.4 603.4,317.4 606.9,317.4 606.9,317.3 610.5,317.3 610.5,317.3 614.0,317.3 614.0,317.3 617.6,317.3 617.6,317.2 621.1,317.2 621.1,317.2 624.7,317.2 624.7,317.2 628.2,317.2 628.2,317.1 631.8,317.1 631.8,317.1 635.3,317.1 635.3,317.1 638.9,317.1 638.9,317.1 642.4,317.1 642.4,317.0 646.0,317.0 646.0,317.0 649.5,317.0 649.5,317.0 653.1,317.0 653.1,317.0 656.6,317.0 656.6,316.9 660.2,316.9 660.2,316.9" fill="none" stroke="#9e9e9e" stroke-width="3.0" stroke-linejoin="round" stroke-linecap="butt"/>
</g>
<polyline points="547.2,398.5 579.0,398.5" fill="none" stroke="#0C5DA5" stroke-width="3.0" stroke-linejoin="round" stroke-linecap="butt"/>
<polyline points="547.2,418.8 579.0,418.8" fill="none" stroke="#00B945" stroke-width="3.0" stroke-linejoin="round" stroke-linecap="butt"/>
<polyline points="547.2,439.0 579.0,439.0" fill="none" stroke="#FF9500" stroke-width="3.0" stroke-linejoin="round" stroke-linecap="butt"/>
<polyline points="547.2,458.9 579.0,458.9" fill="none" stroke="#FF2C00" stroke-width="3.0" stroke-linejoin="round" stroke-linecap="butt"/>
<polyline points="547.2,479.1 579.0,479.1" fill="none" stroke="#845B97" stroke-width="3.0" stroke-linejoin="round" stroke-linecap="butt"/>
<polyline points="547.2,499.1 579.0,499.1" fill="none" stroke="#474747" stroke-width="3.0" stroke-linejoin="round" stroke-linecap="butt"/>
<polyline points="547.2,519.3 579.0,519.3" fill="none" stroke="#9e9e9e" stroke-width="3.0" stroke-linejoin="round" stroke-linecap="butt"/>
<rect x="451.3" y="306.4" width="211.60" height="233.50" fill="none" stroke="#000" stroke-width="3.2" stroke-linejoin="miter"/>
<text transform="matrix(1.0885,0,0,1.0765,-1.097,32.337)" font-family="'Liberation Serif', serif" font-size="30" fill="#000">(</text>
<text transform="matrix(1.0885,0,0,1.0765,26.511,32.337)" font-family="'Liberation Serif', serif" font-size="30" fill="#000">)</text>
<text transform="matrix(1.1259,0,0,0.9391,9.474,31.865)" font-family="'Liberation Serif', serif" font-weight="bold" font-size="30" fill="#000">a</text>
<text transform="matrix(1.0885,0,0,1.0765,345.203,32.337)" font-family="'Liberation Serif', serif" font-size="30" fill="#000">(</text>
<text transform="matrix(1.0885,0,0,1.0765,375.611,32.337)" font-family="'Liberation Serif', serif" font-size="30" fill="#000">)</text>
<text transform="matrix(1.0909,0,0,0.9704,356.991,31.536)" font-family="'Liberation Serif', serif" font-weight="bold" font-size="30" fill="#000">b</text>
<text transform="matrix(1.0885,0,0,1.0765,-0.797,328.537)" font-family="'Liberation Serif', serif" font-size="30" fill="#000">(</text>
<text transform="matrix(1.0885,0,0,1.0765,26.511,328.537)" font-family="'Liberation Serif', serif" font-size="30" fill="#000">)</text>
<text transform="matrix(1.1355,0,0,0.9322,10.765,327.867)" font-family="'Liberation Serif', serif" font-weight="bold" font-size="30" fill="#000">c</text>
<text transform="matrix(1.0885,0,0,1.0765,345.203,328.537)" font-family="'Liberation Serif', serif" font-size="30" fill="#000">(</text>
<text transform="matrix(1.0885,0,0,1.0765,375.611,328.537)" font-family="'Liberation Serif', serif" font-size="30" fill="#000">)</text>
<text transform="matrix(1.0645,0,0,0.9609,356.469,327.840)" font-family="'Liberation Serif', serif" font-weight="bold" font-size="30" fill="#000">d</text>
<text transform="matrix(1.02,0,0,1.065,36.258,254.117)" font-family="'Liberation Sans', sans-serif" font-size="28" fill="#000" stroke="#000" stroke-width="0.32">0.00</text>
<text transform="matrix(1.02,0,0,1.065,36.258,195.792)" font-family="'Liberation Sans', sans-serif" font-size="28" fill="#000" stroke="#000" stroke-width="0.32">0.25</text>
<text transform="matrix(1.02,0,0,1.065,36.258,137.467)" font-family="'Liberation Sans', sans-serif" font-size="28" fill="#000" stroke="#000" stroke-width="0.32">0.50</text>
<text transform="matrix(1.02,0,0,1.065,36.258,79.142)" font-family="'Liberation Sans', sans-serif" font-size="28" fill="#000" stroke="#000" stroke-width="0.32">0.75</text>
<text transform="matrix(1.02,0,0,1.065,36.258,20.817)" font-family="'Liberation Sans', sans-serif" font-size="28" fill="#000" stroke="#000" stroke-width="0.32">1.00</text>
<text transform="matrix(1.02,0,0,1.065,36.258,550.517)" font-family="'Liberation Sans', sans-serif" font-size="28" fill="#000" stroke="#000" stroke-width="0.32">0.00</text>
<text transform="matrix(1.02,0,0,1.065,36.258,492.142)" font-family="'Liberation Sans', sans-serif" font-size="28" fill="#000" stroke="#000" stroke-width="0.32">0.25</text>
<text transform="matrix(1.02,0,0,1.065,36.258,433.767)" font-family="'Liberation Sans', sans-serif" font-size="28" fill="#000" stroke="#000" stroke-width="0.32">0.50</text>
<text transform="matrix(1.02,0,0,1.065,36.258,375.392)" font-family="'Liberation Sans', sans-serif" font-size="28" fill="#000" stroke="#000" stroke-width="0.32">0.75</text>
<text transform="matrix(1.02,0,0,1.065,36.258,317.017)" font-family="'Liberation Sans', sans-serif" font-size="28" fill="#000" stroke="#000" stroke-width="0.32">1.00</text>
<text transform="matrix(1.02,0,0,1.065,401.350,254.217)" font-family="'Liberation Sans', sans-serif" font-size="28" fill="#000" stroke="#000" stroke-width="0.32">0.7</text>
<text transform="matrix(1.02,0,0,1.065,401.095,176.451)" font-family="'Liberation Sans', sans-serif" font-size="28" fill="#000" stroke="#000" stroke-width="0.32">0.8</text>
<text transform="matrix(1.02,0,0,1.065,401.223,98.684)" font-family="'Liberation Sans', sans-serif" font-size="28" fill="#000" stroke="#000" stroke-width="0.32">0.9</text>
<text transform="matrix(1.02,0,0,1.065,400.968,20.917)" font-family="'Liberation Sans', sans-serif" font-size="28" fill="#000" stroke="#000" stroke-width="0.32">1.0</text>
<text transform="matrix(1.02,0,0,1.065,400.713,520.217)" font-family="'Liberation Sans', sans-serif" font-size="28" fill="#000" stroke="#000" stroke-width="0.32">0.4</text>
<text transform="matrix(1.02,0,0,1.065,401.223,455.317)" font-family="'Liberation Sans', sans-serif" font-size="28" fill="#000" stroke="#000" stroke-width="0.32">0.6</text>
<text transform="matrix(1.02,0,0,1.065,401.095,390.417)" font-family="'Liberation Sans', sans-serif" font-size="28" fill="#000" stroke="#000" stroke-width="0.32">0.8</text>
<text transform="matrix(1.02,0,0,1.065,400.968,325.517)" font-family="'Liberation Sans', sans-serif" font-size="28" fill="#000" stroke="#000" stroke-width="0.32">1.0</text>
<text transform="matrix(0.9865,0,0,1.0214,162.204,274.045)" font-family="'Liberation Sans', sans-serif" font-size="28" fill="#000" stroke="#000" stroke-width="0.32">10</text>
<text transform="matrix(1.0411,0,0,0.9730,193.059,262.800)" font-family="'Liberation Sans', sans-serif" font-size="20" fill="#000" stroke="#000" stroke-width="0.32">2</text>
<text transform="matrix(0.9865,0,0,1.0214,286.404,274.045)" font-family="'Liberation Sans', sans-serif" font-size="28" fill="#000" stroke="#000" stroke-width="0.32">10</text>
<text transform="matrix(0.9500,0,0,0.9527,317.825,262.400)" font-family="'Liberation Sans', sans-serif" font-size="20" fill="#000" stroke="#000" stroke-width="0.32">4</text>
<text transform="matrix(0.9794,0,0,1.0214,459.019,274.045)" font-family="'Liberation Sans', sans-serif" font-size="28" fill="#000" stroke="#000" stroke-width="0.32">10</text>
<text transform="matrix(1.0411,0,0,0.9730,489.559,262.800)" font-family="'Liberation Sans', sans-serif" font-size="20" fill="#000" stroke="#000" stroke-width="0.32">2</text>
<text transform="matrix(0.9901,0,0,1.0214,555.196,274.045)" font-family="'Liberation Sans', sans-serif" font-size="28" fill="#000" stroke="#000" stroke-width="0.32">10</text>
<text transform="matrix(0.9579,0,0,0.9841,586.382,262.954)" font-family="'Liberation Sans', sans-serif" font-size="20" fill="#000" stroke="#000" stroke-width="0.32">3</text>
<text transform="matrix(1.0045,0,0,1.0013,81.265,570.150)" font-family="'Liberation Sans', sans-serif" font-size="28" fill="#000" stroke="#000" stroke-width="0.32">10</text>
<text transform="matrix(0.9247,0,0,0.9699,112.906,558.858)" font-family="'Liberation Sans', sans-serif" font-size="20" fill="#000" stroke="#000" stroke-width="0.32">0</text>
<text transform="matrix(0.9794,0,0,1.0113,201.119,570.147)" font-family="'Liberation Sans', sans-serif" font-size="28" fill="#000" stroke="#000" stroke-width="0.32">10</text>
<text transform="matrix(1.0192,0,0,0.9586,231.581,559.100)" font-family="'Liberation Sans', sans-serif" font-size="20" fill="#000" stroke="#000" stroke-width="0.32">2</text>
<text transform="matrix(1.0264,0,0,1.0242,513.645,570.144)" font-family="'Liberation Sans', sans-serif" font-size="28" fill="#000" stroke="#000" stroke-width="0.32">5</text>
<text transform="matrix(0.9758,0,0,0.9912,577.226,569.952)" font-family="'Liberation Sans', sans-serif" font-size="28" fill="#000" stroke="#000" stroke-width="0.32">10</text>
<text transform="matrix(1.0511,0,0,0.9862,643.166,565.953)" font-family="'Liberation Sans', sans-serif" font-size="28" fill="#000" stroke="#000" stroke-width="0.32">10</text>
<text transform="matrix(0.9895,0,0,0.9416,675.458,555.165)" font-family="'Liberation Sans', sans-serif" font-size="20" fill="#000" stroke="#000" stroke-width="0.32">3</text>
<text transform="matrix(0,-1.2374,0.9918,0,20.685,165.673)" font-family="'Liberation Serif', serif" font-size="20" fill="#000">Fidelity</text>
<text transform="matrix(0,-1.2341,0.9918,0,20.685,461.871)" font-family="'Liberation Serif', serif" font-size="20" fill="#000">Fidelity</text>
<text transform="matrix(1.2467,0,0,1.0792,157.433,601.200)" font-family="'Liberation Serif', serif" font-size="20" fill="#000">Timesteps</text>
<text transform="matrix(1.2467,0,0,1.0792,506.733,601.200)" font-family="'Liberation Serif', serif" font-size="20" fill="#000">Timesteps</text>
<text transform="matrix(1.4047,0,0,1.0411,210.373,207.900)" font-family="'Liberation Serif', serif" font-size="14" fill="#000">RLfD</text>
<text transform="matrix(1.4358,0,0,1.0849,210.362,228.100)" font-family="'Liberation Serif', serif" font-size="14" fill="#000">Model-free</text>
<text transform="matrix(1.4455,0,0,1.0740,559.058,188.200)" font-family="'Liberation Serif', serif" font-size="14" fill="#000">Model-free</text>
<text transform="matrix(1.4255,0,0,1.0133,558.887,208.000)" font-family="'Liberation Serif', serif" font-size="14" fill="#000">0.75</text>
<text transform="matrix(1.4255,0,0,1.0240,558.887,228.100)" font-family="'Liberation Serif', serif" font-size="14" fill="#000">0.85</text>
<text transform="matrix(1.0308,0,0,1.0105,588.327,404.200)" font-family="'Liberation Sans', sans-serif" font-size="14" fill="#000">6.25 MHz</text>
<text transform="matrix(1.0374,0,0,1.0105,587.933,424.150)" font-family="'Liberation Sans', sans-serif" font-size="14" fill="#000">12.5 MHz</text>
<text transform="matrix(1.0308,0,0,1.0105,588.327,444.100)" font-family="'Liberation Sans', sans-serif" font-size="14" fill="#000">25.0 MHz</text>
<text transform="matrix(1.0264,0,0,1.0105,588.587,464.050)" font-family="'Liberation Sans', sans-serif" font-size="14" fill="#000">37.5 MHz</text>
<text transform="matrix(1.0286,0,0,1.0105,588.457,484.000)" font-family="'Liberation Sans', sans-serif" font-size="14" fill="#000">50.0 MHz</text>
<text transform="matrix(1.0308,0,0,1.0105,588.327,503.950)" font-family="'Liberation Sans', sans-serif" font-size="14" fill="#000">62.5 MHz</text>
<text transform="matrix(1.0308,0,0,1.0105,588.327,523.900)" font-family="'Liberation Sans', sans-serif" font-size="14" fill="#000">75.0 MHz</text>
<path d="M625.2 552.6L638.2 565.6M638.2 552.6L625.2 565.6" stroke="#000" stroke-width="1.5" fill="none"/>
</svg></body></html>
